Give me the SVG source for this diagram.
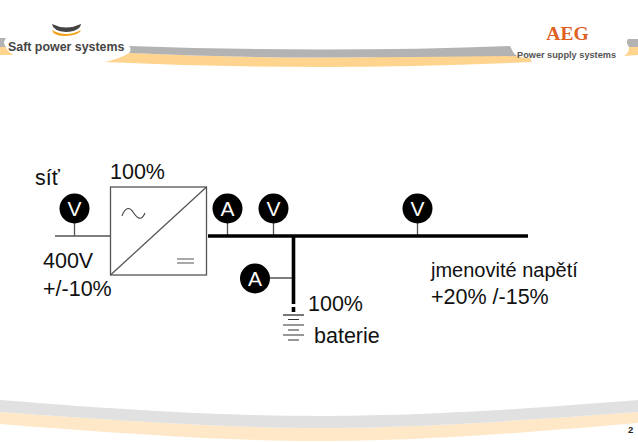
<svg xmlns="http://www.w3.org/2000/svg" width="638" height="442" viewBox="0 0 638 442">
<style>
text{font-family:"Liberation Sans",Arial,sans-serif;fill:#111}
.t{font-size:21.500px}
.m{fill:#000}
.mt{font-size:21px;fill:#fff;text-anchor:middle}
.thin{stroke:#555;stroke-width:1.300;fill:none}
.thick{stroke:#000;stroke-width:3.600;fill:none}
.bat{stroke:#333;stroke-width:1.100}
</style>
<rect width="638" height="442" fill="#fff"/>
<g id="header">
<path d="M104 62C115 60 124 56 129 53Q230 57.500 320 57.500Q420 57.500 510 52C516 56 522 58 530 58L532 62Q420 67 320 67Q210 67 104 62Z" fill="#ffd48f"/>
<path d="M129 46Q230 49.500 320 49.500Q420 49.500 510 46C512 50 514 55 518 56Q420 57.500 320 57.500Q230 57.500 129 53C131 51 131 48 129 46Z" fill="#b3b3b3"/>
<path d="M0 38H6C3 42 4 44 6 47H0Z" fill="#b3b3b3"/>
<path d="M0 47H6C7 51 10 53 14 55H0Z" fill="#ffd48f"/>
<path d="M638 39H628C626 42 627 44 629 47H638Z" fill="#b3b3b3"/>
<path d="M638 47H629C629 51 628 53 624 56L638 55Z" fill="#ffd48f"/>
<path d="M52 24Q66 31 81 24Q80 31 66 32Q53 31 52 24Z" fill="#444"/>
<path d="M52 30Q66 38 81 30Q80 35 66 36Q53 36 52 30Z" fill="#f0a21a"/>
<text x="8" y="51" font-size="12.400" font-weight="700" style="fill:#444">Saft power systems</text>
<text x="567.500" y="40" font-size="19.500" font-weight="700" text-anchor="middle" style="font-family:'Liberation Serif',serif;fill:#e0601f">AEG</text>
<text x="517" y="58" font-size="9.200" font-weight="700" style="fill:#555">Power supply systems</text>
</g>
<g id="footer">
<path d="M0 412C150 423 240 428 320 428C400 428 490 423 638 412V423C490 436 400 441 320 441C240 441 150 436 0 424Z" fill="#ffe8c8"/>
<path d="M0 400C150 412 240 416 320 416C400 416 490 412 638 400V412C490 423 400 428 320 428C240 428 150 423 0 412Z" fill="#e1e1e1"/>
<text x="628" y="433" font-size="9.500" font-weight="700" style="fill:#222">2</text>
</g>
<g id="connectors">
<path class="thin" d="M55 236H110M74.500 208V236M227.500 208V236M273.500 208V236M417.500 208V236M255 278H293"/>
<path class="thick" d="M208 236H528M293.500 236V304M293.500 307V312"/>
</g>
<g id="converter">
<rect x="110.500" y="187" width="96" height="88" fill="#fff" stroke="#555" stroke-width="1.300"/>
<path class="thin" d="M110.500 275L206.500 187"/>
<path d="M122 216C125 208 129 206 133 212C137 218 141 222 145 213" fill="none" stroke="#444" stroke-width="1.100"/>
<path d="M177 259H194M177 263H194" stroke="#555" stroke-width="1.100"/>
</g>
<g id="meter-v1"><circle class="m" cx="74.500" cy="208.500" r="15"/><text class="mt" x="74.500" y="216">V</text></g>
<g id="meter-a1"><circle class="m" cx="227.500" cy="208.500" r="15"/><text class="mt" x="227.500" y="216">A</text></g>
<g id="meter-v2"><circle class="m" cx="273.500" cy="208.500" r="15"/><text class="mt" x="273.500" y="216">V</text></g>
<g id="meter-v3"><circle class="m" cx="417.500" cy="208.500" r="15"/><text class="mt" x="417.500" y="216">V</text></g>
<g id="meter-a2"><circle class="m" cx="255" cy="278.500" r="15"/><text class="mt" x="255" y="286">A</text></g>
<g id="battery">
<path d="M283 315H304" stroke="#777" stroke-width="2"/>
<path class="bat" d="M288 319.500H299M283 325H304M288 330H299M283 335H304M288 340H299"/>
</g>
<g id="labels">
<text class="t" x="35" y="185">síť</text>
<text class="t" x="110" y="179">100%</text>
<text class="t" x="43" y="268">400V</text>
<text class="t" x="43" y="296">+/-10%</text>
<text class="t" x="308" y="311">100%</text>
<text class="t" x="314" y="343">baterie</text>
<text x="431" y="277" font-size="20">jmenovité napětí</text>
<text class="t" x="431" y="304">+20% /-15%</text>
</g>
</svg>
